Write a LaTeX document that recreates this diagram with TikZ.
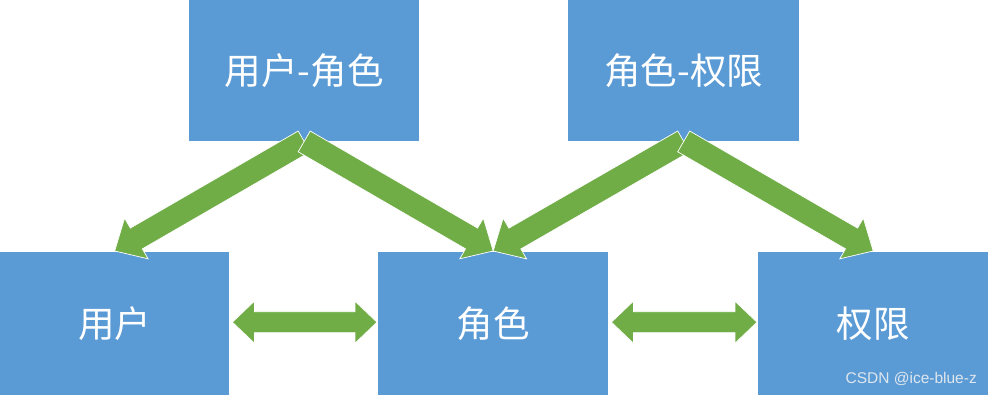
\documentclass[tikz,border=0pt]{standalone}
\usepackage{fontspec}
\usetikzlibrary{calc,positioning}
\newfontfamily\cjk{Noto Sans CJK SC}
\newfontfamily\wmfont{Liberation Sans}
\definecolor{boxblue}{HTML}{5B9BD5}
\definecolor{arrowgreen}{HTML}{70AD47}
\definecolor{wmgray}{RGB}{222,230,238}
\tikzset{
  box/.style={fill=boxblue, draw=none, anchor=north west, minimum width=#1, inner sep=0pt,
              text=white, font=\cjk\fontsize{36.5}{36.5}\selectfont},
  box/.default=229pt,
  barrow/.style={fill=arrowgreen, draw=white, line width=0.7pt, line join=miter}
}
% single block arrow: tail #1, tip #2
\newcommand\mysinglearrow[2]{%
  \path ($(#2)!25pt!(#1)$) coordinate (hh);
  \path[barrow] ($(#1)!12pt!90:(#2)$) -- ($(hh)!12pt!-90:(#1)$) -- ($(hh)!23.5pt!-90:(#1)$)
    -- (#2) -- ($(hh)!23.5pt!90:(#1)$) -- ($(hh)!12pt!90:(#1)$) -- ($(#1)!12pt!-90:(#2)$) -- cycle;
}
% double block arrow between #1 and #2
\newcommand\mydoublearrow[2]{%
  \path ($(#2)!22pt!(#1)$) coordinate (hb);
  \path ($(#1)!22pt!(#2)$) coordinate (ha);
  \path[barrow] (#1) -- ($(ha)!21pt!90:(#2)$) -- ($(ha)!10.5pt!90:(#2)$)
    -- ($(hb)!10.5pt!-90:(#1)$) -- ($(hb)!21pt!-90:(#1)$) -- (#2)
    -- ($(hb)!21pt!90:(#1)$) -- ($(hb)!10.5pt!90:(#1)$)
    -- ($(ha)!10.5pt!-90:(#2)$) -- ($(ha)!21pt!-90:(#2)$) -- cycle;
}
\begin{document}
\begin{tikzpicture}[x=1pt,y=-1pt]
\useasboundingbox[fill=white] (0,0) rectangle (991,395);
% top boxes
\node[box=230pt, minimum height=141pt] (ur) at (189,0) {用户-角色};
\node[box=231pt, minimum height=141pt] (rp) at (568,0) {角色-权限};
% bottom boxes
\node[box=229pt, minimum height=143pt] (u) at (0,252) {用户};
\node[box=230pt, minimum height=143pt] (r) at (378,252) {角色};
\node[box=230pt, minimum height=143pt] (p) at (758,252) {权限};
% arrow endpoints
\coordinate (t1) at (ur.south);
\coordinate (t2) at (rp.south);
\coordinate (a1) at ($(u.north)+(0,-1)$);
\coordinate (a2) at ($(r.north)+(0,-1)$);
\coordinate (a3) at ($(p.north)+(0,-1)$);
\mysinglearrow{t1}{a1}
\mysinglearrow{t1}{a2}
\mysinglearrow{t2}{a2}
\mysinglearrow{t2}{a3}
% horizontal double arrows
\coordinate (h1) at ($(u.east)+(3,-1.5)$);
\coordinate (h2) at ($(r.west)+(-1,-1.5)$);
\coordinate (h3) at ($(r.east)+(3,-1.5)$);
\coordinate (h4) at ($(p.west)+(-1,-1.5)$);
\mydoublearrow{h1}{h2}
\mydoublearrow{h3}{h4}
% watermark
\node[anchor=south east, inner sep=0pt, text=wmgray, font=\wmfont\fontsize{15.5}{15.5}\selectfont] (wm) at (977,386) {CSDN @ice-blue-z};
\end{tikzpicture}
\end{document}
